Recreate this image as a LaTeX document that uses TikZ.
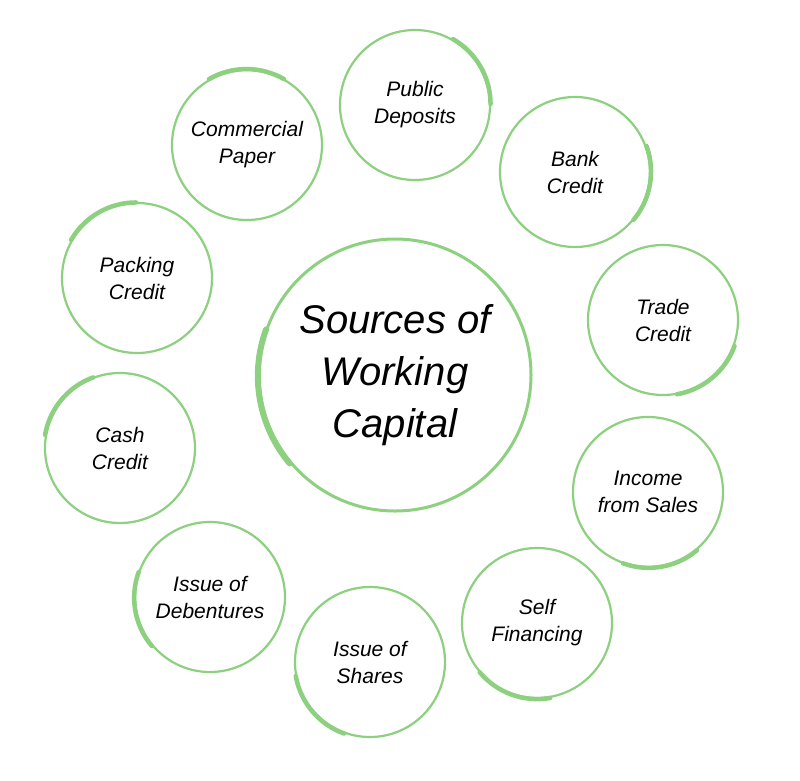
\documentclass[tikz,border=0pt]{standalone}
\usepackage{fontspec}
\setmainfont{Liberation Sans}
\definecolor{grn}{RGB}{140,208,128}
\begin{document}
\begin{tikzpicture}[x=1pt,y=-1pt,
  ring/.style={circle,draw=grn,line width=2.2pt,minimum size=150pt,align=center,font=\fontsize{21}{27}\selectfont\itshape,inner sep=0pt},
  big/.style={circle,draw=grn,line width=3pt,minimum size=272pt,align=center,font=\fontsize{40}{52}\selectfont\itshape,inner sep=0pt}]
\useasboundingbox (0,0) rectangle (800,780);
\fill[white] (0,0) rectangle (800,780);
\node[big] (c) at (395,375) {Sources of\\Working\\Capital};
\node[ring] (n1) at (415,105) {Public\\Deposits};
\node[ring] (n2) at (575,172) {Bank\\Credit};
\node[ring] (n3) at (663,320) {Trade\\Credit};
\node[ring] (n4) at (648,492) {Income\\from Sales};
\node[ring] (n5) at (537,623) {Self\\Financing};
\node[ring] (n6) at (370,662) {Issue of\\Shares};
\node[ring] (n7) at (210,597) {Issue of\\Debentures};
\node[ring] (n8) at (120,448) {Cash\\Credit};
\node[ring] (n9) at (137,278) {Packing\\Credit};
\node[ring] (n10) at (247,145) {Commercial\\Paper};
\foreach \n/\a in {n1/60,n2/20,n3/-20,n4/-50,n5/-80,n6/-110,n7/-140,n8/170,n9/150,n10/120}
  \draw[grn,line width=4.5pt,line cap=round] (\n.\a) arc[start angle=\a,delta angle=-60,radius=75pt];
\draw[grn,line width=6pt,line cap=round] (c.220) arc[start angle=220,delta angle=-60,radius=136pt];
\end{tikzpicture}
\end{document}
